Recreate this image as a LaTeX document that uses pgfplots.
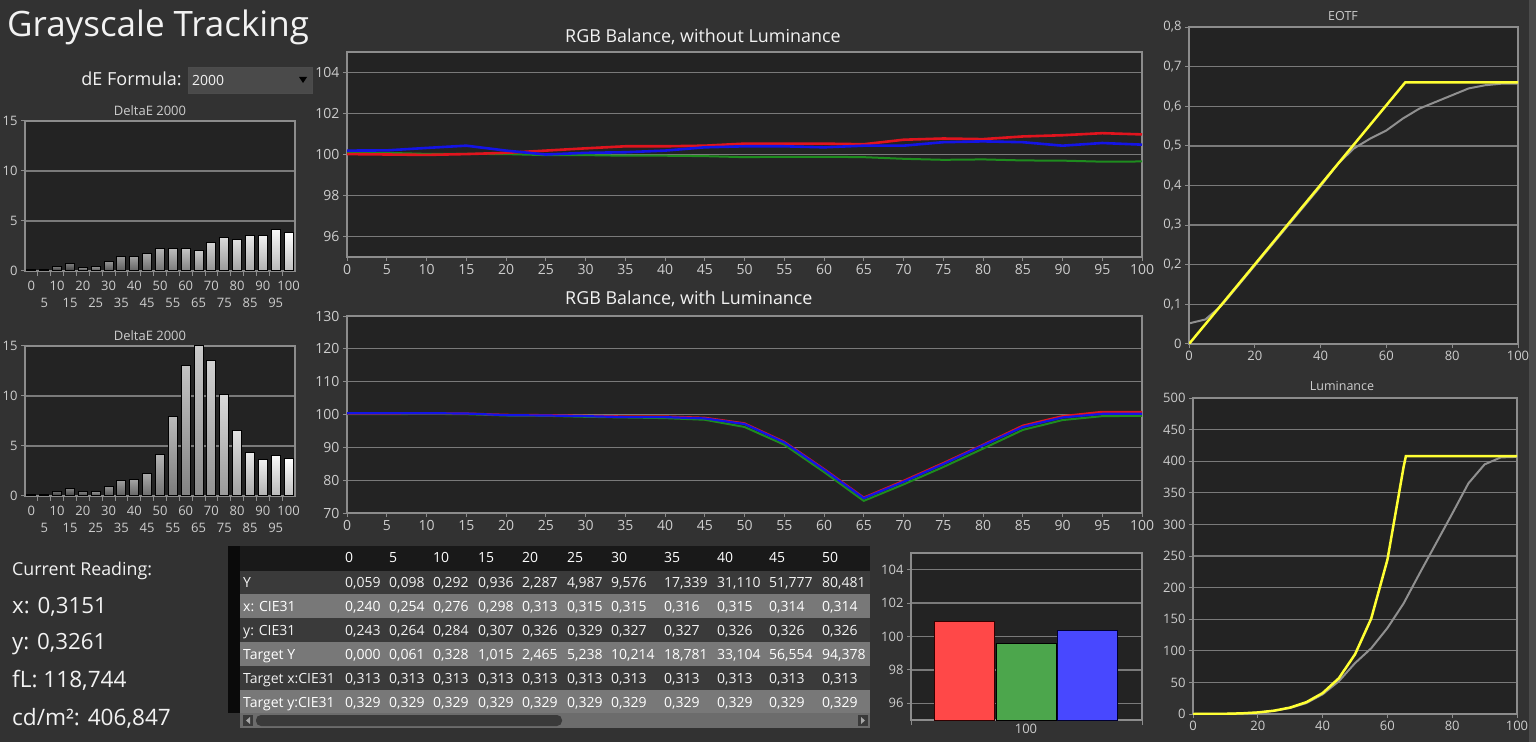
\documentclass[border=0pt]{standalone}
\usepackage{pgfplots}
\pgfplotsset{compat=1.18}
\usepackage{fontspec}
\setmainfont{Open Sans}
\definecolor{bgc}{HTML}{323232}
\definecolor{plotbg}{HTML}{232323}
\definecolor{framec}{HTML}{8C8C8C}
\definecolor{gridc}{HTML}{7A7A7A}
\definecolor{tickc}{HTML}{CDCDCD}
\definecolor{txtc}{HTML}{F2F2F2}
\definecolor{lred}{HTML}{E0141E}
\definecolor{lgreen}{HTML}{1E8C1E}
\definecolor{lblue}{HTML}{1414E6}
\definecolor{yel}{HTML}{FFFF33}
\definecolor{gline}{HTML}{909090}
\definecolor{rowd}{HTML}{3A3A3A}
\definecolor{rowl}{HTML}{787878}
\definecolor{ddc}{HTML}{4A4A4A}
\definecolor{scrbg}{HTML}{6C6C6C}
\definecolor{scrth}{HTML}{3A3A3A}
\definecolor{bred}{HTML}{FF4848}
\definecolor{bgreen}{HTML}{4CA64C}
\definecolor{bblue}{HTML}{4848FF}
\newcommand{\fs}[1]{\fontsize{#1}{#1}\selectfont}
\pgfplotsset{
  dash/.style={
    scale only axis, anchor=south west,
    axis background/.style={fill=plotbg},
    axis line style={draw=framec, line width=1.6pt},
    grid style={draw=gridc, line width=1.3pt},
    ymajorgrids,
    tick style={draw=framec, line width=1pt},
    major tick length=4pt, minor tick length=5pt,
    tick align=outside,
    xtick pos=lower, ytick pos=lower,
    tick label style={font=\fs{13}, text=tickc},
    /pgf/number format/assume math mode=true,
  },
  de/.style={xmin=-2.5, xmax=102.5, ymin=0, ymax=15, ytick={0,5,10,15},
    xtick={0,10,...,100}, extra x ticks={5,15,...,95},
    xticklabel style={yshift=-3pt},
    extra x tick style={tick label style={yshift=-17pt}},
    minor xtick={2.5,7.5,...,97.5},
    major x tick style={draw=none}},
  gbar/.style={ybar, bar width=3.5, bar shift=0pt, draw=black, line width=1pt},
}
\newcommand{\gbar}[4]{\addplot[gbar, top color=white!#3!black, bottom color=white!#4!black] coordinates {(#1,#2)};}
\newcommand{\trow}[3]{% y, color, values
  \foreach \v [count=\i from 0] in {#3} {%
    \pgfmathsetmacro\xx{{345,389,433,478,522,567,611,664,717,769,822}[\i]}%
    \node[anchor=base west, inner sep=0, text=#2, font=\fs{14}] at (\xx,#1) {\v};}}
\begin{document}
\begin{tikzpicture}[x=1pt,y=1pt]
\fill[bgc] (0,0) rectangle (1536,742);
\fill[bgc!88!white] (1529,0) rectangle (1536,742);

% ===== DeltaE (top) =====
\begin{axis}[dash, de, at={(25pt,471pt)}, width=270pt, height=150pt]
\gbar{0}{0.15}{40}{15}
\gbar{5}{0.1}{43}{18}
\gbar{10}{0.4}{46}{21}
\gbar{15}{0.75}{49}{24}
\gbar{20}{0.3}{52}{27}
\gbar{25}{0.4}{55}{30}
\gbar{30}{0.93}{58}{33}
\gbar{35}{1.47}{61}{36}
\gbar{40}{1.47}{64}{39}
\gbar{45}{1.74}{67}{42}
\gbar{50}{2.2}{70}{45}
\gbar{55}{2.2}{73}{48}
\gbar{60}{2.2}{76}{51}
\gbar{65}{2.04}{79}{54}
\gbar{70}{2.8}{82}{57}
\gbar{75}{3.34}{85}{60}
\gbar{80}{3.17}{88}{63}
\gbar{85}{3.57}{91}{66}
\gbar{90}{3.57}{94}{69}
\gbar{95}{4.1}{97}{72}
\gbar{100}{3.84}{100}{75}
\end{axis}

% ===== DeltaE (bottom) =====
\begin{axis}[dash, de, at={(25pt,246pt)}, width=270pt, height=150pt]
\gbar{0}{0.13}{40}{15}
\gbar{5}{0.1}{43}{18}
\gbar{10}{0.47}{46}{21}
\gbar{15}{0.7}{49}{24}
\gbar{20}{0.47}{52}{27}
\gbar{25}{0.4}{55}{30}
\gbar{30}{0.97}{58}{33}
\gbar{35}{1.5}{61}{36}
\gbar{40}{1.64}{64}{39}
\gbar{45}{2.27}{67}{42}
\gbar{50}{4.1}{70}{45}
\gbar{55}{7.9}{73}{48}
\gbar{60}{13.0}{76}{51}
\gbar{65}{15.0}{79}{54}
\gbar{70}{13.5}{82}{57}
\gbar{75}{10.16}{85}{60}
\gbar{80}{6.58}{88}{63}
\gbar{85}{4.31}{91}{66}
\gbar{90}{3.6}{94}{69}
\gbar{95}{4.0}{97}{72}
\gbar{100}{3.7}{100}{75}
\end{axis}

% ===== RGB Balance without Luminance =====
\begin{axis}[dash, at={(347pt,485pt)}, width=795pt, height=205pt,
  xmin=0, xmax=100, ymin=95, ymax=105, xtick={0,5,...,100}, ytick={96,98,...,104},
  tick label style={font=\fs{14}}]
\addplot[lgreen, line width=2pt] coordinates {(0,100.08)(5,100.08)(10,100.03)(15,100.03)(20,100.02)(25,99.97)(30,99.97)(35,99.94)(40,99.94)(45,99.92)(50,99.87)(55,99.89)(60,99.89)(65,99.87)(70,99.79)(75,99.74)(80,99.76)(85,99.71)(90,99.7)(95,99.65)(100,99.66)};
\addplot[lred, line width=2.6pt] coordinates {(0,100.02)(5,100.0)(10,99.98)(15,100.02)(20,100.08)(25,100.19)(30,100.3)(35,100.4)(40,100.4)(45,100.43)(50,100.53)(55,100.53)(60,100.53)(65,100.5)(70,100.72)(75,100.78)(80,100.75)(85,100.88)(90,100.94)(95,101.04)(100,100.98)};
\addplot[lblue, line width=2.6pt] coordinates {(0,100.19)(5,100.2)(10,100.32)(15,100.43)(20,100.19)(25,100.0)(30,100.08)(35,100.11)(40,100.19)(45,100.35)(50,100.4)(55,100.4)(60,100.35)(65,100.43)(70,100.43)(75,100.6)(80,100.64)(85,100.6)(90,100.43)(95,100.56)(100,100.48)};
\end{axis}

% ===== RGB Balance with Luminance =====
\begin{axis}[dash, at={(347pt,229pt)}, width=795pt, height=197pt,
  xmin=0, xmax=100, ymin=70, ymax=130, xtick={0,5,...,100}, ytick={70,80,...,130},
  tick label style={font=\fs{14}}]
\addplot[lgreen, line width=2pt] coordinates {(0,100.1)(5,100.1)(10,100.2)(15,100.1)(20,99.7)(25,99.6)(30,99.3)(35,99.1)(40,98.9)(45,98.4)(50,96.2)(55,90.8)(60,82.5)(65,73.7)(70,78.7)(75,84.0)(80,89.6)(85,95.3)(90,98.3)(95,99.5)(100,99.6)};
\addplot[lred, line width=2.2pt] coordinates {(0,100.3)(5,100.3)(10,100.4)(15,100.3)(20,99.9)(25,99.8)(30,99.6)(35,99.4)(40,99.4)(45,99.0)(50,97.3)(55,91.7)(60,83.4)(65,74.7)(70,79.8)(75,85.2)(80,90.8)(85,96.6)(90,99.5)(95,100.8)(100,100.8)};
\addplot[lblue, line width=2.2pt] coordinates {(0,100.4)(5,100.4)(10,100.4)(15,100.3)(20,99.8)(25,99.7)(30,99.5)(35,99.2)(40,99.2)(45,98.8)(50,97.1)(55,91.5)(60,83.2)(65,74.5)(70,79.5)(75,84.9)(80,90.6)(85,96.2)(90,99.1)(95,100.2)(100,100.2)};
\end{axis}

% ===== small RGB bars =====
\begin{axis}[dash, at={(911pt,22pt)}, width=231pt, height=167pt,
  xmin=0, xmax=231, ymin=95, ymax=105, ytick={96,98,...,104},
  xtick={115}, xticklabels={100}, major x tick style={draw=none},
  xticklabel style={yshift=3pt},
  minor xtick={0,231}]
\addplot[ybar, bar width=60, bar shift=0pt, fill=bred, draw=black!80!red, line width=1pt] coordinates {(53,100.9)};
\addplot[ybar, bar width=60, bar shift=0pt, fill=bgreen, draw=black, line width=1pt] coordinates {(115,99.56)};
\addplot[ybar, bar width=60, bar shift=0pt, fill=bblue, draw=black!80!blue, line width=1pt] coordinates {(176,100.38)};
\end{axis}

% ===== EOTF =====
\begin{axis}[dash, at={(1189pt,398pt)}, width=329pt, height=317pt,
  xmin=0, xmax=100, ymin=0, ymax=0.8, xtick={0,20,...,100},
  ytick={0,0.1,0.2,0.3,0.4,0.5,0.6,0.7,0.8},
  yticklabel style={/pgf/number format/.cd, use comma, fixed, precision=1}]
\addplot[gline, line width=2pt] coordinates {(0,0.052)(5,0.062)(10,0.098)(15,0.148)(20,0.198)(25,0.248)(30,0.298)(35,0.348)(40,0.398)(45,0.452)(50,0.493)(55,0.518)(60,0.539)(65,0.569)(70,0.594)(75,0.611)(80,0.628)(85,0.645)(90,0.653)(95,0.657)(100,0.657)};
\addplot[yel, line width=2.5pt] coordinates {(0,0)(65.7,0.66)(100,0.66)};
\end{axis}

% ===== Luminance =====
\begin{axis}[dash, at={(1193pt,28pt)}, width=324pt, height=316pt,
  xmin=0, xmax=100, ymin=0, ymax=500, xtick={0,20,...,100}, ytick={0,50,...,500}]
\addplot[gline, line width=2pt] coordinates {(0,0.059)(5,0.098)(10,0.292)(15,0.936)(20,2.287)(25,4.987)(30,9.576)(35,17.339)(40,31.11)(45,51.777)(50,80.481)(55,104)(60,136)(65,175)(70,223)(75,270)(80,317)(85,365)(90,395)(95,406)(100,406.847)};
\addplot[yel, line width=2.5pt] coordinates {(0,0)(5,0.061)(10,0.328)(15,1.015)(20,2.465)(25,5.238)(30,10.214)(35,18.781)(40,33.104)(45,56.554)(50,94.378)(55,151)(60,244)(65,391)(65.7,408)(100,408)};
\end{axis}

% ===== texts and table (image coordinates) =====
\begin{scope}[yshift=742pt, yscale=-1]
\node[anchor=base west, inner sep=0, text=txtc, font=\fs{35}] at (7,37) {Grayscale Tracking};
\node[anchor=base east, inner sep=0, text=txtc, font=\fs{18}] at (182,86) {dE Formula:};
\fill[ddc] (188,67) rectangle (312,93);
\draw[black!70, line width=0.8pt] (188,67) rectangle (312,93);
\node[anchor=base west, inner sep=0, text=txtc, font=\fs{14}] at (192,86) {2000};
\fill[black] (299,77) -- (307,77) -- (303,83) -- cycle;
\node[anchor=base, inner sep=0, text=tickc, font=\fs{13}] at (150,116) {DeltaE 2000};
\node[anchor=base, inner sep=0, text=tickc, font=\fs{13}] at (150,341) {DeltaE 2000};
\node[anchor=base west, inner sep=0, text=txtc, font=\fs{17.9}] at (565,43) {RGB Balance, without Luminance};
\node[anchor=base west, inner sep=0, text=txtc, font=\fs{17.9}] at (565,305) {RGB Balance, with Luminance};
\node[anchor=base, inner sep=0, text=tickc, font=\fs{12.5}] at (1343,21) {EOTF};
\node[anchor=base, inner sep=0, text=tickc, font=\fs{12.5}] at (1342,391) {Luminance};
\node[anchor=base west, inner sep=0, text=txtc, font=\fs{17.8}] at (12,575) {Current Reading:};
\node[anchor=base west, inner sep=0, text=txtc, font=\fs{22.3}] at (12,613) {x: 0,3151};
\node[anchor=base west, inner sep=0, text=txtc, font=\fs{22.3}] at (12,649) {y: 0,3261};
\node[anchor=base west, inner sep=0, text=txtc, font=\fs{22.6}] at (12,687) {fL: 118,744};
\node[anchor=base west, inner sep=0, text=txtc, font=\fs{22.6}] at (12,725) {cd/m²: 406,847};
% table
\fill[black!90] (228,546) rectangle (870,571);
\fill[black!96] (228,546) rectangle (240,713);
\fill[rowd] (240,571) rectangle (870,594);
\fill[rowl] (240,594) rectangle (870,618);
\fill[rowd] (240,618) rectangle (870,642);
\fill[rowl] (240,642) rectangle (870,666);
\fill[rowd] (240,666) rectangle (870,690);
\fill[rowl] (240,690) rectangle (870,713);
\fill[scrbg] (240,713) rectangle (870,728);
\fill[scrth, rounded corners=5pt] (256,715) rectangle (562,726);
\fill[scrth] (243,715) rectangle (253,726);
\fill[scrth] (858,715) rectangle (868,726);
\fill[scrbg!60!white] (250,717) -- (250,724) -- (246,720.5) -- cycle;
\fill[scrbg!60!white] (861,717) -- (861,724) -- (865,720.5) -- cycle;
\trow{563}{white}{0,5,10,15,20,25,30,35,40,45,50}
\node[anchor=base west, inner sep=0, text=txtc, font=\fs{14}] at (243,587) {Y};
\trow{587}{txtc}{{0,059},{0,098},{0,292},{0,936},{2,287},{4,987},{9,576},{17,339},{31,110},{51,777},{80,481}}
\node[anchor=base west, inner sep=0, text=white, font=\fs{14}] at (243,611) {x: CIE31};
\trow{611}{white}{{0,240},{0,254},{0,276},{0,298},{0,313},{0,315},{0,315},{0,316},{0,315},{0,314},{0,314}}
\node[anchor=base west, inner sep=0, text=txtc, font=\fs{14}] at (243,635) {y: CIE31};
\trow{635}{txtc}{{0,243},{0,264},{0,284},{0,307},{0,326},{0,329},{0,327},{0,327},{0,326},{0,326},{0,326}}
\node[anchor=base west, inner sep=0, text=white, font=\fs{14}] at (243,659) {Target Y};
\trow{659}{white}{{0,000},{0,061},{0,328},{1,015},{2,465},{5,238},{10,214},{18,781},{33,104},{56,554},{94,378}}
\node[anchor=base west, inner sep=0, text=txtc, font=\fs{14}] at (243,683) {Target x:CIE31};
\trow{683}{txtc}{{0,313},{0,313},{0,313},{0,313},{0,313},{0,313},{0,313},{0,313},{0,313},{0,313},{0,313}}
\node[anchor=base west, inner sep=0, text=white, font=\fs{14}] at (243,707) {Target y:CIE31};
\trow{707}{white}{{0,329},{0,329},{0,329},{0,329},{0,329},{0,329},{0,329},{0,329},{0,329},{0,329},{0,329}}
\end{scope}
\pgfresetboundingbox
\path (0,0) rectangle (1536,742);
\end{tikzpicture}
\end{document}
